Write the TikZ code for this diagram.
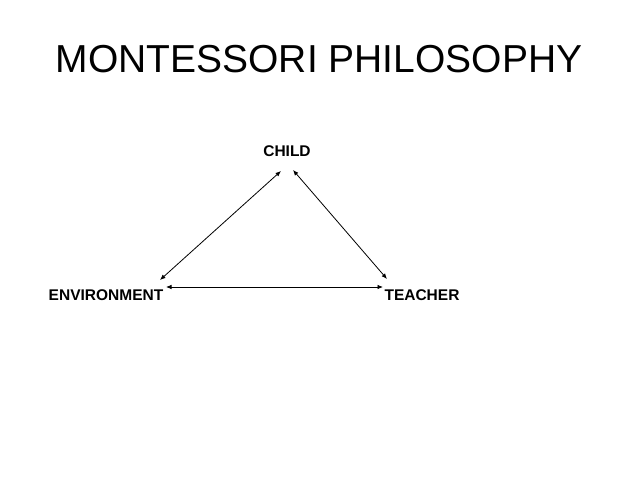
\documentclass[tikz,border=0pt]{standalone}
\usepackage{fontspec}
\setmainfont{Liberation Sans}
\usetikzlibrary{arrows.meta}
\begin{document}
\begin{tikzpicture}[x=1pt,y=-1pt,
  lbl/.style={inner sep=0pt,font=\fontsize{15.5}{16}\selectfont\bfseries},
  conn/.style={line width=0.8pt,{Latex[length=5.5pt,width=4.5pt]}-{Latex[length=5.5pt,width=4.5pt]}}]
\fill[white] (0,0) rectangle (638,478);
\useasboundingbox (0,0) rectangle (638,478);
\node[inner sep=0pt,font=\fontsize{39}{40}\selectfont] (title) at (319,59) {MONTESSORI PHILOSOPHY};
\node[lbl] (child) at (287,151) {CHILD};
\node[lbl] (env) at (106,295) {ENVIRONMENT};
\node[lbl] (teacher) at (422,295) {TEACHER};
\draw[conn] ([shift={(-6,20)}]child.center) -- ([shift={(54,-15)}]env.center);
\draw[conn] ([shift={(6,19)}]child.center) -- ([shift={(-35,-16)}]teacher.center);
\draw[conn] ([shift={(60,-8)}]env.center) -- ([shift={(-39,-8)}]teacher.center);
\end{tikzpicture}
\end{document}
